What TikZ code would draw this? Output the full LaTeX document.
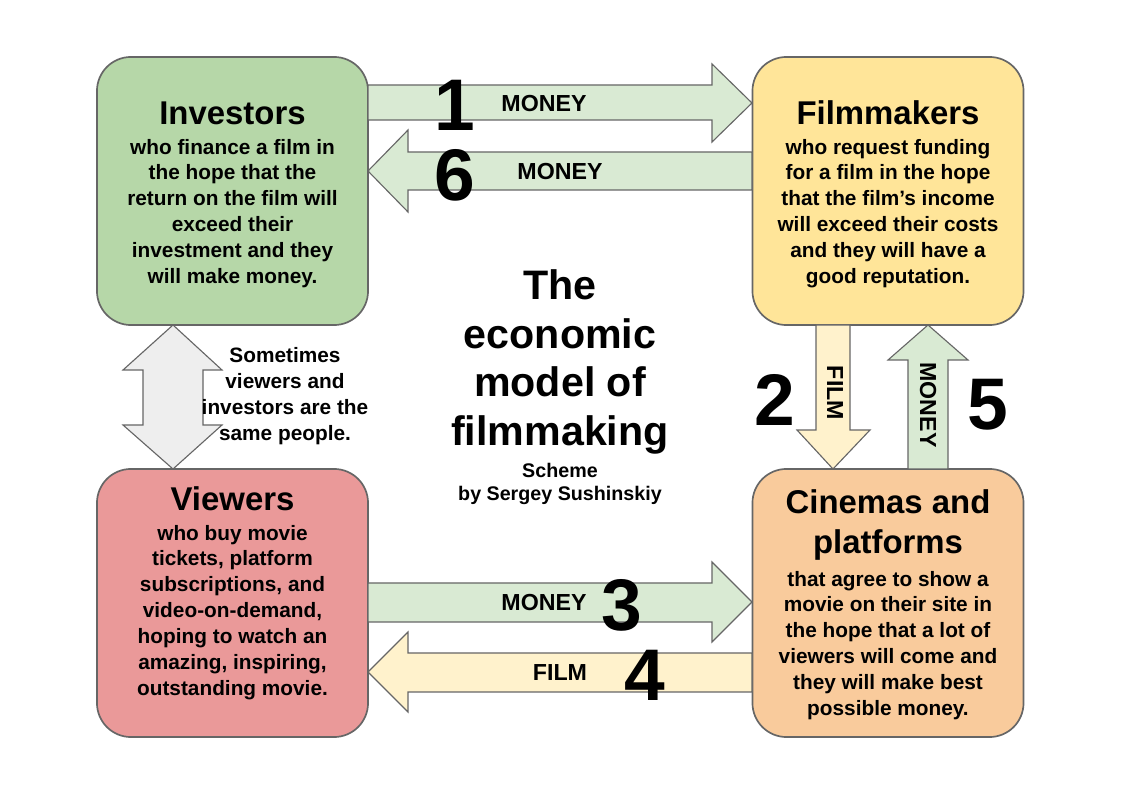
\documentclass[tikz,border=0pt]{standalone}
\usepackage{fontspec}
\setmainfont{Liberation Sans}
\usetikzlibrary{calc}
\definecolor{InvGreen}{HTML}{B6D7A8}
\definecolor{FilmYellow}{HTML}{FFE599}
\definecolor{ViewRed}{HTML}{EA9999}
\definecolor{CinOrange}{HTML}{F9CB9C}
\definecolor{ArrGreen}{HTML}{D9EAD3}
\definecolor{ArrYellow}{HTML}{FFF2CC}
\definecolor{ArrGray}{HTML}{EEEEEE}
\definecolor{EdgeGray}{HTML}{666666}
\tikzset{
  box/.style={draw=EdgeGray, line width=1.2pt, rounded corners=0.85cm, minimum width=6.775cm, minimum height=6.7cm},
  blockarrow/.style={draw=EdgeGray, line width=0.8pt},
  stepnum/.style={font=\fontsize{52}{52}\selectfont\bfseries},
  word/.style={font=\fontsize{16.5}{16.5}\selectfont\bfseries},
  title/.style={font=\fontsize{23.4}{28}\selectfont\bfseries},
  body/.style={font=\fontsize{14.8}{18.4}\selectfont\bfseries, align=center}
}
\begin{document}
\begin{tikzpicture}[x=0.025cm, y=-0.025cm]
\useasboundingbox (0,0) rectangle (1121,793);
% the four actors
\node [box, fill=InvGreen] (inv) at (232.5,191) {};
\node [box, fill=FilmYellow] (film) at (888,191) {};
\node [box, fill=ViewRed] (view) at (232.5,603) {};
\node [box, fill=CinOrange] (cin) at (888,603) {};
% block arrows
\draw [blockarrow, fill=ArrGreen] (368,85)--(712,85)--(712,64)--(752,103)--(712,142)--(712,120)--(368,120)--cycle;
\draw [blockarrow, fill=ArrGreen] (752,152)--(408,152)--(408,130)--(368,171)--(408,212)--(408,190)--(752,190)--cycle;
\draw [blockarrow, fill=ArrGreen] (368,583)--(712,583)--(712,562)--(752,602)--(712,642)--(712,622)--(368,622)--cycle;
\draw [blockarrow, fill=ArrYellow] (752,653)--(408,653)--(408,632)--(368,672)--(408,712)--(408,692)--(752,692)--cycle;
\draw [blockarrow, fill=ArrYellow] (816,325)--(850,325)--(850,430)--(870,430)--(833,469)--(797,430)--(816,430)--cycle;
\draw [blockarrow, fill=ArrGreen] (908,469)--(908,360)--(888,360)--(928,325)--(968,360)--(948,360)--(948,469)--cycle;
\draw [blockarrow, fill=ArrGray] (123,370)--(173,325)--(222,370)--(203,370)--(203,425)--(222,425)--(173,469)--(123,425)--(143,425)--(143,370)--cycle;
% box texts
\node [title] (invT) at (232.5,113) {Investors};
\node [body, anchor=north] (invB) at (232.5,134) {who finance a film in\\the hope that the\\return on the film will\\exceed their\\investment and they\\will make money.};
\node [title] (filmT) at (888,113) {Filmmakers};
\node [body, anchor=north] (filmB) at (888,134) {who request funding\\for a film in the hope\\that the film's income\\will exceed their costs\\and they will have a\\good reputation.};
\node [title] (viewT) at (232.5,499) {Viewers};
\node [body, anchor=north] (viewB) at (232.5,520) {who buy movie\\tickets, platform\\subscriptions, and\\video-on-demand,\\hoping to watch an\\amazing, inspiring,\\outstanding movie.};
\node [title, align=center] (cinT) at (888,525) {Cinemas and\\platforms};
\node [body, anchor=north] (cinB) at (888,566) {that agree to show a\\movie on their site in\\the hope that a lot of\\viewers will come and\\they will make best\\possible money.};
% arrow labels
\node [stepnum] (s1) at (455,105) {1};
\node [stepnum] (s6) at (455,175) {6};
\node [stepnum] (s2) at (775,400) {2};
\node [stepnum] (s5) at (988,405) {5};
\node [stepnum] (s3) at (622,605) {3};
\node [stepnum] (s4) at (645,675) {4};
\node [word] (w1) at (544,104) {MONEY};
\node [word] (w6) at (560,172) {MONEY};
\node [word] (w3) at (544,603) {MONEY};
\node [word] (w4) at (560,673) {FILM};
\node [word, rotate=-90] (w2) at (835,393) {FILM};
\node [word, rotate=-90] (w5) at (928,405) {MONEY};
\node [body] (same) at (285,396) {Sometimes\\viewers and\\investors are the\\same people.};
% title
\node [align=center, font=\fontsize{29.3}{34.7}\selectfont\bfseries] (head) at (560,362) {The\\economic\\model of\\filmmaking};
\node [align=center, font=\fontsize{14}{17}\selectfont\bfseries] (sub) at (560,484) {Scheme\\by Sergey Sushinskiy};
\end{tikzpicture}
\end{document}
